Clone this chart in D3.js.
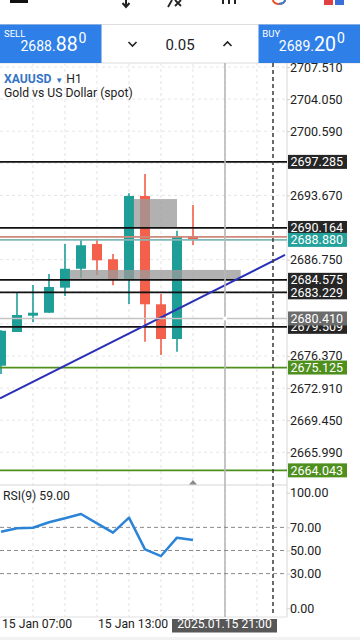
<!DOCTYPE html>
<html><head><meta charset="utf-8">
<script src="https://cdn.jsdelivr.net/npm/d3@7/dist/d3.min.js"></script>
<style>html,body{margin:0;padding:0;background:#fff;overflow:hidden}svg{display:block;font-family:Roboto,"Noto Sans",sans-serif}</style>
</head><body><svg id="c" width="360" height="640"></svg>
<script>
// ---------------- data ----------------
const hours = ["07:00","08:00","09:00","10:00","11:00","12:00","13:00","14:00","15:00","16:00","17:00","18:00","19:00"];
const openP  = [2675.32,2678.95,2680.71,2681.03,2683.73,2685.77,2688.44,2686.79,2684.56,2693.61,2681.94,2678.20,2689.27];
const highP  = [2679.15,2683.16,2684.02,2685.20,2688.44,2688.87,2688.87,2687.36,2693.90,2695.98,2683.05,2689.87,2692.64];
const lowP   = [2674.43,2678.95,2680.03,2681.03,2682.83,2684.77,2685.09,2683.98,2681.97,2677.91,2676.48,2676.83,2688.33];
const closeP = [2679.09,2680.79,2681.03,2683.80,2685.77,2688.30,2686.68,2684.63,2693.61,2681.94,2678.20,2689.30,2688.88];
const rsiValues = [66.3,69.2,69.7,74.4,77.9,81.6,73.5,65.4,78.4,51.0,45.2,61.1,59.0];
const priceGrid = [2707.51,2704.05,2700.59,2697.13,2693.67,2690.21,2686.75,2683.29,2679.83,2676.37,2672.91,2669.45,2665.99];
const priceTickLabels = [2707.51,2704.05,2700.59,2693.67,2686.75,2676.37,2672.91,2669.45,2665.99];
const rsiTicks = [100,70,50,30,0];
const rsiLevels = [70,50,30];
const blackLevels = [2697.285,2690.164,2684.575,2683.229,2679.509];
const greenLevels = [2675.125,2664.043];
const bidPrice = 2688.88, askPrice = 2689.20;
const crossPrice = 2680.41, crossIndex = 14, crossTimeLabel = "2025.01.15 21:00";
const timeLabels = [{i:0,t:"15 Jan 07:00"},{i:6,t:"15 Jan 13:00"}];
const zones = [{i0:8.3,i1:11.0,p0:2693.28,p1:2690.27},{i0:4.3,i1:14.98,p0:2685.64,p1:2684.63}];
const trendPts = [{i:0,p:2671.86},{i:16,p:2685.74}];
const rsiPeriod = 9;
const symbol = "XAUUSD", timeframe = "H1", symbolDesc = "Gold vs US Dollar (spot)";
const sellParts = ["2688.","88","0"], buyParts = ["2689.","20","0"], lot = "0.05";

// ---------------- layout ----------------
const svg = d3.select("#c");
const W = 360, plotR = 287, mainTop = 63, mainBot = 485, rsiBot = 617;
const x = d3.scaleLinear().domain([0,16]).range([1,257]);
const y = d3.scaleLinear().domain([2665.99,2707.51]).range([452.3,67]);
const r = d3.scaleLinear().domain([0,100]).range([608.3,492.7]);
const teal = "#1f9e98", red = "#f3604b";

const defs = svg.append("defs");
defs.append("clipPath").attr("id","mainClip").append("rect").attr("x",0).attr("y",mainTop).attr("width",plotR).attr("height",mainBot-mainTop);
defs.append("clipPath").attr("id","rsiClip").append("rect").attr("x",0).attr("y",mainBot).attr("width",plotR).attr("height",rsiBot-mainBot);

// ---------------- top toolbar (cut off) ----------------
const tb = svg.append("g");
tb.append("rect").attr("x",10).attr("y",0).attr("width",18).attr("height",3).attr("fill","#111");
tb.append("path").attr("d","M126,0 L126,6 M122.5,3 L126,7 L129.5,3").attr("stroke","#222").attr("stroke-width",2).attr("fill","none");
tb.append("path").attr("d","M168,7 L172,0 M175,0 L181,6 M181,0 L175,6").attr("stroke","#222").attr("stroke-width",1.8).attr("fill","none");
tb.append("path").attr("d","M223,0 L223,4 M229,0 L229,4 M235,0 L235,4").attr("stroke","#222").attr("stroke-width",2).attr("fill","none");
tb.append("path").attr("d","M273,0 A6,4 0 0 0 285,0").attr("stroke","#e8552b").attr("stroke-width",2).attr("fill","none");
tb.append("path").attr("d","M279,3.8 A6,4 0 0 0 285,0").attr("stroke","#2f7fe0").attr("stroke-width",2).attr("fill","none");
tb.append("rect").attr("x",324).attr("y",0).attr("width",9).attr("height",5).attr("fill","#e04040");
tb.append("rect").attr("x",335).attr("y",0).attr("width",9).attr("height",5).attr("fill","#3b6fd8");

// ---------------- sell / buy bar ----------------
const bar = svg.append("g");
bar.append("rect").attr("x",0).attr("y",24.5).attr("width",W).attr("height",38.5).attr("fill","#fff");
bar.append("line").attr("x1",0).attr("x2",W).attr("y1",24.5).attr("y2",24.5).attr("stroke","#dedede");
bar.append("line").attr("x1",0).attr("x2",W).attr("y1",63).attr("y2",63).attr("stroke","#dcdcdc");
const blue = "#2f7fe8";
bar.append("rect").attr("x",0).attr("y",24.5).attr("width",101.5).attr("height",38.5).attr("fill",blue);
bar.append("rect").attr("x",258.5).attr("y",24.5).attr("width",101.5).attr("height",38.5).attr("fill",blue);
function priceBlock(x0, label, parts){
  bar.append("text").attr("x",x0).attr("y",36.7).attr("fill","#fff").attr("font-size",9.5).text(label);
  const t = bar.append("text").attr("x",x0+16.5).attr("y",50.7).attr("fill","#fff");
  t.append("tspan").attr("font-size",14).text(parts[0]);
  t.append("tspan").attr("font-size",19.5).text(parts[1]);
  t.append("tspan").attr("font-size",14).attr("dy",-7.5).attr("dx",1).text(parts[2]);
}
priceBlock(4,"SELL",sellParts);
priceBlock(262.3,"BUY",buyParts);
bar.append("path").attr("d","M128.5,42 L132.5,46 L136.5,42").attr("stroke","#222").attr("stroke-width",1.6).attr("fill","none");
bar.append("path").attr("d","M223.5,46 L227.5,42 L231.5,46").attr("stroke","#222").attr("stroke-width",1.6).attr("fill","none");
bar.append("text").attr("x",180).attr("y",50).attr("text-anchor","middle").attr("font-size",15).attr("fill","#222").text(lot);

// ---------------- grids ----------------
const grid = svg.append("g");
const gridXs = d3.range(2,17,2);
grid.selectAll(".vg").data(gridXs).join("line")
  .attr("x1",d=>x(d)).attr("x2",d=>x(d)).attr("y1",mainTop).attr("y2",rsiBot)
  .attr("stroke","#e2e2e2").attr("stroke-dasharray","3,3");
grid.selectAll(".hg").data(priceGrid).join("line")
  .attr("x1",0).attr("x2",plotR).attr("y1",d=>y(d)).attr("y2",d=>y(d))
  .attr("stroke","#e6e6e6").attr("stroke-dasharray","3,3");
svg.append("line").attr("x1",0).attr("x2",plotR).attr("y1",mainBot).attr("y2",mainBot).attr("stroke","#d6d6d6");
svg.append("line").attr("x1",plotR).attr("x2",plotR).attr("y1",mainTop).attr("y2",rsiBot).attr("stroke","#d6d6d6");
svg.append("line").attr("x1",0).attr("x2",plotR).attr("y1",rsiBot).attr("y2",rsiBot).attr("stroke","#e0e0e0");

// ---------------- candles ----------------
const main = svg.append("g").attr("clip-path","url(#mainClip)");
const candles = hours.map((h,i)=>({i,o:openP[i],h:highP[i],l:lowP[i],c:closeP[i]}));
main.selectAll(".wick").data(candles).join("line")
  .attr("x1",d=>x(d.i)).attr("x2",d=>x(d.i)).attr("y1",d=>y(d.h)).attr("y2",d=>y(d.l))
  .attr("stroke",d=>d.c>=d.o?teal:red).attr("stroke-width",1.6);
main.selectAll(".body").data(candles).join("rect")
  .attr("x",d=>x(d.i)-5).attr("width",10)
  .attr("y",d=>y(Math.max(d.o,d.c))).attr("height",d=>Math.max(2.5,Math.abs(y(d.o)-y(d.c))))
  .attr("fill",d=>d.c>=d.o?teal:red);

main.selectAll(".zone").data(zones).join("rect")
  .attr("x",d=>x(d.i0)).attr("width",d=>x(d.i1)-x(d.i0))
  .attr("y",d=>y(d.p0)).attr("height",d=>y(d.p1)-y(d.p0))
  .attr("fill","#9b9b9b").attr("opacity",0.78);

main.selectAll(".bl").data(blackLevels).join("line")
  .attr("x1",0).attr("x2",plotR).attr("y1",d=>y(d)).attr("y2",d=>y(d))
  .attr("stroke","#111").attr("stroke-width",1.8);
main.selectAll(".gl").data(greenLevels).join("line")
  .attr("x1",0).attr("x2",plotR).attr("y1",d=>y(d)).attr("y2",d=>y(d))
  .attr("stroke","#4f8f1e").attr("stroke-width",1.8);
main.append("line").attr("x1",0).attr("x2",plotR).attr("y1",y(askPrice)).attr("y2",y(askPrice)).attr("stroke","#cc8a7a").attr("stroke-width",1.6);
main.append("line").attr("x1",0).attr("x2",plotR).attr("y1",y(bidPrice)).attr("y2",y(bidPrice)).attr("stroke","#80b8b7").attr("stroke-width",1.6);

const tSlope = (trendPts[1].p-trendPts[0].p)/(trendPts[1].i-trendPts[0].i);
const tAt = i => trendPts[0].p + tSlope*(i-trendPts[0].i);
const iA = x.invert(0), iB = x.invert(285);
main.append("line").attr("x1",x(iA)).attr("x2",x(iB)).attr("y1",y(tAt(iA))).attr("y2",y(tAt(iB)))
  .attr("stroke","#2a2fb8").attr("stroke-width",2);

main.append("line").attr("x1",0).attr("x2",plotR).attr("y1",y(crossPrice)).attr("y2",y(crossPrice)).attr("stroke","#c4c4c4").attr("stroke-width",1.5);
svg.append("line").attr("x1",x(crossIndex)).attr("x2",x(crossIndex)).attr("y1",mainTop).attr("y2",rsiBot).attr("stroke","#b8b8b8").attr("stroke-width",1.6);
svg.append("circle").attr("cx",x(crossIndex)).attr("cy",y(crossPrice)).attr("r",2).attr("fill","#fff");

svg.append("line").attr("x1",273).attr("x2",273).attr("y1",mainTop).attr("y2",rsiBot-4)
  .attr("stroke","#3a3a3a").attr("stroke-width",1.5).attr("stroke-dasharray","4,3");

svg.append("path").attr("d",`M${x(12)-4},484.5 L${x(12)},480 L${x(12)+4},484.5 Z`).attr("fill","#8a8a8a");

// ---------------- price axis ----------------
const yAxis = d3.axisRight(y).tickValues(priceTickLabels).tickFormat(d3.format(".3f")).tickSizeInner(3).tickSizeOuter(0).tickPadding(0);
const ya = svg.append("g").attr("transform",`translate(${plotR},0)`).call(yAxis);
ya.select(".domain").remove();
ya.selectAll(".tick line").attr("stroke","#cfcfcf");
ya.selectAll(".tick text").attr("font-size",12.5).attr("fill","#222").attr("font-family","Roboto,sans-serif").attr("x",3);

function priceBox(p, fill){
  const g = svg.append("g");
  g.append("rect").attr("x",288).attr("y",y(p)-7).attr("width",59).attr("height",14).attr("fill",fill);
  g.append("text").attr("x",290.5).attr("y",y(p)).attr("dy","0.36em").attr("font-size",12.5).attr("fill","#fff").text(d3.format(".3f")(p));
}
priceBox(blackLevels[0],"#262626");
priceBox(blackLevels[1],"#262626");
priceBox(bidPrice,"#24a19a");
priceBox(blackLevels[2],"#262626");
priceBox(blackLevels[3],"#262626");
priceBox(blackLevels[4],"#262626");
priceBox(crossPrice,"#6c6c6c");
priceBox(greenLevels[0],"#4f8f1e");
priceBox(greenLevels[1],"#4f8f1e");

// ---------------- title ----------------
const tt = svg.append("text").attr("x",4).attr("y",83.3).attr("font-size",12.2);
tt.append("tspan").attr("fill","#3474c4").attr("font-weight","bold").text(symbol);
tt.append("tspan").attr("fill","#3474c4").attr("font-size",8).attr("dx",4).text("▼");
tt.append("tspan").attr("fill","#222").attr("dx",3).text(timeframe);
svg.append("text").attr("x",4).attr("y",96.5).attr("font-size",12.2).attr("fill","#222").text(symbolDesc);

// ---------------- RSI ----------------
const rsiG = svg.append("g").attr("clip-path","url(#rsiClip)");
rsiG.selectAll(".rl").data(rsiLevels).join("line")
  .attr("x1",0).attr("x2",plotR).attr("y1",d=>r(d)).attr("y2",d=>r(d))
  .attr("stroke","#8a8a8a").attr("stroke-dasharray","4,3");
rsiG.append("path").datum(rsiValues)
  .attr("d",d3.line().x((d,i)=>x(i)).y(d=>r(d)))
  .attr("fill","none").attr("stroke","#2b84d8").attr("stroke-width",2.5).attr("stroke-linejoin","round");
svg.append("text").attr("x",3).attr("y",500).attr("font-size",12.2).attr("fill","#222")
  .text(`RSI(${rsiPeriod}) ${d3.format(".2f")(rsiValues[rsiValues.length-1])}`);
const rAxis = d3.axisRight(r).tickValues(rsiTicks).tickFormat(d3.format(".2f")).tickSizeInner(3).tickSizeOuter(0).tickPadding(0);
const ra = svg.append("g").attr("transform",`translate(${plotR},0)`).call(rAxis);
ra.select(".domain").remove();
ra.selectAll(".tick line").attr("stroke","#cfcfcf");
ra.selectAll(".tick text").attr("font-size",12.5).attr("fill","#222").attr("font-family","Roboto,sans-serif").attr("x",3);

// ---------------- time axis ----------------
svg.selectAll(".tl").data(timeLabels).join("text")
  .attr("x",d=>x(d.i)+1).attr("y",628.3).attr("font-size",12.2).attr("fill","#222").text(d=>d.t);
const cl = svg.append("g");
cl.append("rect").attr("x",x(crossIndex)-53).attr("y",619).attr("width",105).attr("height",13.5).attr("fill","#575757");
cl.append("text").attr("x",x(crossIndex)-0.5).attr("y",628.3).attr("text-anchor","middle").attr("font-size",12.2).attr("fill","#fff").text(crossTimeLabel);
svg.append("rect").attr("x",0).attr("y",637).attr("width",W).attr("height",3).attr("fill","#f2f2f2");
</script></body></html>
